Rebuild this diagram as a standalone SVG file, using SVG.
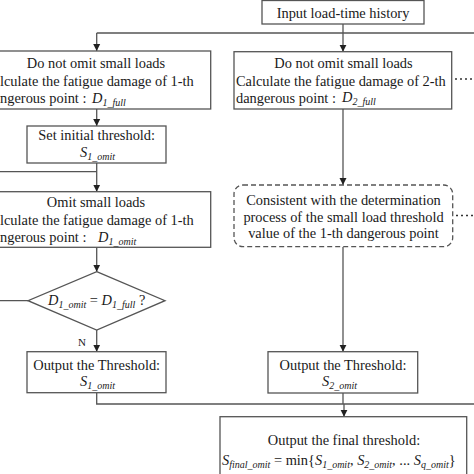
<svg xmlns="http://www.w3.org/2000/svg" width="474" height="474" viewBox="0 0 474 474">
<style>
.box{fill:#fff;stroke:#555;stroke-width:1.3}
.dash{fill:#fff;stroke:#555;stroke-width:1.3;stroke-dasharray:5 3}
.ln{fill:none;stroke:#555;stroke-width:1.3}
.dot{fill:none;stroke:#333;stroke-width:1.6;stroke-dasharray:2 3}
text{font-family:"Liberation Serif","Times New Roman",serif;font-size:14.4px;fill:#1a1a1a}
.c{text-anchor:middle}
.i{font-style:italic}
.s{font-size:10px;font-style:italic}
</style>
<defs>
<marker id="ah" markerWidth="8" markerHeight="8" refX="7" refY="4" orient="auto" markerUnits="userSpaceOnUse">
<path d="M0,0.5 L7,4 L0,7.5 Z" fill="#222"/>
</marker>
</defs>
<g id="connectors">
<polyline class="ln" points="343,24 343,33"/>
<line class="ln" x1="96.7" y1="33" x2="474" y2="33"/>
<line class="ln" x1="96.7" y1="33" x2="96.7" y2="51" marker-end="url(#ah)"/>
<line class="ln" x1="343" y1="33" x2="343" y2="51.7" marker-end="url(#ah)"/>
<line class="ln" x1="96.7" y1="109" x2="96.7" y2="126" marker-end="url(#ah)"/>
<line class="ln" x1="96.7" y1="163" x2="96.7" y2="191.7" marker-end="url(#ah)"/>
<polyline class="ln" points="28,300.7 -10,300.7 -10,171.7 96.7,171.7"/>
<line class="ln" x1="96.7" y1="247.3" x2="96.7" y2="271.7" marker-end="url(#ah)"/>
<line class="ln" x1="96.7" y1="330" x2="96.7" y2="351.7" marker-end="url(#ah)"/>
<polyline class="ln" points="96.7,392.7 96.7,404 474,404"/>
<line class="ln" x1="343" y1="109" x2="343" y2="185" marker-end="url(#ah)"/>
<line class="ln" x1="343" y1="246.7" x2="343" y2="351.7" marker-end="url(#ah)"/>
<line class="ln" x1="343" y1="393" x2="343" y2="404"/>
<line class="ln" x1="344" y1="404" x2="344" y2="416.7" marker-end="url(#ah)"/>
<line class="dot" x1="455" y1="79" x2="474" y2="79"/>
<line class="dot" x1="456" y1="215.5" x2="474" y2="215.5"/>
<text x="82" y="345.5" class="c" style="font-size:11px">N</text>
</g>
<g id="input">
<rect class="box" x="262" y="0.5" width="162" height="23.5"/>
<text x="343" y="18" class="c">Input load-time history</text>
</g>
<g id="full1">
<rect class="box" x="-19" y="51" width="229.7" height="58"/>
<text x="96" y="68" class="c">Do not omit small loads</text>
<text x="-16" y="86">Calculate the fatigue damage of 1-th</text>
<text x="-13.5" y="103">dangerous point :</text>
<text x="92" y="103"><tspan class="i">D</tspan><tspan class="s" dy="3">1_full</tspan></text>
</g>
<g id="full2">
<rect class="box" x="234" y="51.7" width="217.7" height="57.3"/>
<text x="343.5" y="68" class="c">Do not omit small loads</text>
<text x="236" y="86">Calculate the fatigue damage of 2-th</text>
<text x="236" y="103">dangerous point :</text>
<text x="342" y="102"><tspan class="i">D</tspan><tspan class="s" dy="3">2_full</tspan></text>
</g>
<g id="init">
<rect class="box" x="27" y="126" width="139" height="37"/>
<text x="96.7" y="140" class="c">Set initial threshold:</text>
<text x="80" y="157"><tspan class="i">S</tspan><tspan class="s" dy="3">1_omit</tspan></text>
</g>
<g id="omit1">
<rect class="box" x="-19" y="191.7" width="229.7" height="55.6"/>
<text x="96" y="207" class="c">Omit small loads</text>
<text x="-16" y="225">Calculate the fatigue damage of 1-th</text>
<text x="-13.5" y="242">dangerous point :</text>
<text x="98" y="242"><tspan class="i">D</tspan><tspan class="s" dy="3">1_omit</tspan></text>
</g>
<g id="decision">
<polygon class="box" points="96.7,271.7 165,300.7 96.7,330 28,300.7"/>
<text x="96.7" y="305" class="c"><tspan class="i">D</tspan><tspan class="s" dy="3">1_omit</tspan><tspan dy="-3"> = </tspan><tspan class="i">D</tspan><tspan class="s" dy="3">1_full</tspan><tspan dy="-3"> ?</tspan></text>
</g>
<g id="out1">
<rect class="box" x="27" y="351.7" width="139" height="41"/>
<text x="96.7" y="370" class="c">Output the Threshold:</text>
<text x="80" y="385.5"><tspan class="i">S</tspan><tspan class="s" dy="3">1_omit</tspan></text>
</g>
<g id="consistent">
<rect class="dash" x="234" y="185" width="218.7" height="61.7" rx="9"/>
<text x="343.5" y="205" class="c">Consistent with the determination</text>
<text x="343.5" y="221.5" class="c">process of the small load threshold</text>
<text x="343.5" y="238" class="c">value of the 1-th dangerous point</text>
</g>
<g id="out2">
<rect class="box" x="268" y="351.7" width="149.7" height="41.3"/>
<text x="343" y="370" class="c">Output the Threshold:</text>
<text x="322" y="385.5"><tspan class="i">S</tspan><tspan class="s" dy="3">2_omit</tspan></text>
</g>
<g id="final">
<rect class="box" x="220" y="416.7" width="246.7" height="70"/>
<text x="344" y="445" class="c">Output the final threshold:</text>
<text x="222" y="465"><tspan class="i">S</tspan><tspan class="s" dy="3">final_omit</tspan><tspan dy="-3"> = min{</tspan><tspan class="i">S</tspan><tspan class="s" dy="3">1_omit</tspan><tspan dy="-3">, </tspan><tspan class="i">S</tspan><tspan class="s" dy="3">2_omit</tspan><tspan dy="-3">, ... </tspan><tspan class="i">S</tspan><tspan class="s" dy="3">q_omit</tspan><tspan dy="-3">}</tspan></text>
</g>
</svg>
